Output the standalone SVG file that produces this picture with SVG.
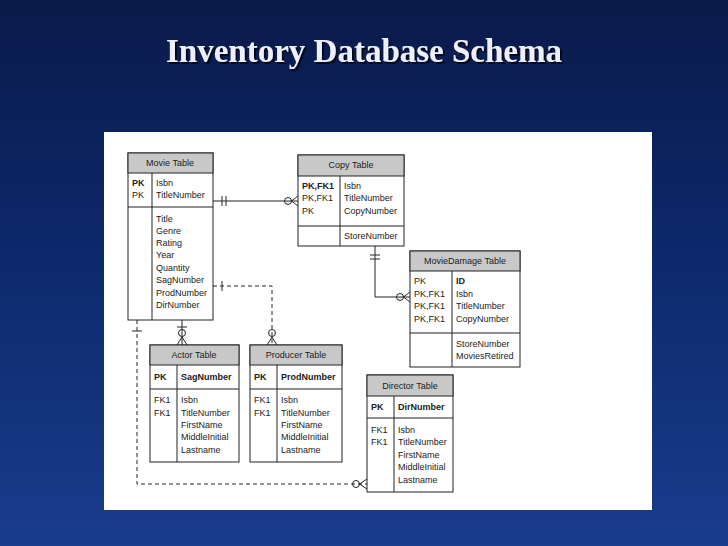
<svg xmlns="http://www.w3.org/2000/svg" width="728" height="546" viewBox="0 0 728 546">
<defs>
<linearGradient id="bg" x1="0" y1="0" x2="0" y2="1"><stop offset="0" stop-color="#0a1a4a"/><stop offset="0.5" stop-color="#0d2a6e"/><stop offset="1" stop-color="#1a3c8c"/></linearGradient>
<filter id="sh" x="-5%" y="-20%" width="110%" height="150%"><feDropShadow dx="2" dy="2" stdDeviation="0.5" flood-color="#000" flood-opacity="0.7"/></filter>
</defs>
<style>
.t{fill:#fff;stroke:#222;stroke-width:1}
.h{fill:#c8c8c8;stroke:#222;stroke-width:1}
.l{stroke:#222;stroke-width:1;fill:none}
.d{stroke:#222;stroke-width:1;fill:none;stroke-dasharray:4,3}
text{font-family:"Liberation Sans",Arial,sans-serif;font-size:9px;fill:#222}
.b{font-weight:bold}
.c{text-anchor:middle}
</style>
<rect width="728" height="546" fill="url(#bg)"/>
<text x="364" y="62" class="c" filter="url(#sh)" style="font-family:'Liberation Serif',serif;font-size:33px;font-weight:bold;fill:#eef0ff">Inventory Database Schema</text>
<rect x="104" y="132" width="548" height="378" fill="#fff"/>
<g id="connectors">
<path class="l" d="M213 201H298"/><path class="l" d="M222 196v10M226 196v10"/>
<circle class="l" cx="288" cy="201" r="3.5"/><path class="l" d="M291.5 201L298 196M291.5 201L298 206"/>
<path class="l" d="M375 246V297H410"/><path class="l" d="M370 255h10M370 259h10"/>
<circle class="l" cx="400" cy="297" r="3.5"/><path class="l" d="M403.5 297L410 292M403.5 297L410 302"/>
<path class="d" d="M213 286H272V345"/><path class="l" d="M222 281v10"/>
<circle class="l" cx="272" cy="333" r="3.5"/><path class="l" d="M272 337L267 345M272 337L277 345"/>
<path class="l" d="M182 320V345"/><path class="l" d="M177 327h10"/>
<circle class="l" cx="182" cy="333" r="3.5"/><path class="l" d="M182 337L177 345M182 337L187 345"/>
<path class="d" d="M137 320V484H367"/><path class="l" d="M132 331h10"/>
<circle class="l" cx="356" cy="484" r="3.5"/><path class="l" d="M359.5 484L367 479M359.5 484L367 489"/>
</g>
<g id="movie">
<rect class="t" x="128" y="153" width="85" height="167"/><rect class="h" x="128" y="153" width="85" height="20"/>
<path class="l" d="M128 207H213M152 173V320"/>
<text x="170" y="166" class="c">Movie Table</text>
<text x="132" y="186" class="b">PK</text><text x="132" y="198">PK</text>
<text x="156" y="186">Isbn</text><text x="156" y="198">TitleNumber</text>
<text x="156" y="222">Title</text><text x="156" y="234">Genre</text><text x="156" y="246">Rating</text><text x="156" y="258">Year</text><text x="156" y="271">Quantity</text><text x="156" y="283">SagNumber</text><text x="156" y="296">ProdNumber</text><text x="156" y="308">DirNumber</text>
</g>
<g id="copy">
<rect class="t" x="298" y="155" width="106" height="91"/><rect class="h" x="298" y="155" width="106" height="21"/>
<path class="l" d="M298 226H404M340 176V246"/>
<text x="351" y="168" class="c">Copy Table</text>
<text x="302" y="189" class="b">PK,FK1</text><text x="302" y="201">PK,FK1</text><text x="302" y="214">PK</text>
<text x="344" y="189">Isbn</text><text x="344" y="201">TitleNumber</text><text x="344" y="214">CopyNumber</text>
<text x="344" y="239">StoreNumber</text>
</g>
<g id="moviedamage">
<rect class="t" x="410" y="251" width="110" height="116"/><rect class="h" x="410" y="251" width="110" height="20"/>
<path class="l" d="M410 333H520M452 271V367"/>
<text x="465" y="264" class="c">MovieDamage Table</text>
<text x="414" y="284">PK</text><text x="414" y="297">PK,FK1</text><text x="414" y="309">PK,FK1</text><text x="414" y="322">PK,FK1</text>
<text x="456" y="284" class="b">ID</text><text x="456" y="297">Isbn</text><text x="456" y="309">TitleNumber</text><text x="456" y="322">CopyNumber</text>
<text x="456" y="347">StoreNumber</text><text x="456" y="359">MoviesRetired</text>
</g>
<g id="actor">
<rect class="t" x="150" y="345" width="89" height="117"/><rect class="h" x="150" y="345" width="89" height="20"/>
<path class="l" d="M150 389H239M177 365V462"/>
<text x="194" y="358" class="c">Actor Table</text>
<text x="154" y="380" class="b">PK</text><text x="181" y="380" class="b">SagNumber</text>
<text x="154" y="403">FK1</text><text x="154" y="416">FK1</text>
<text x="181" y="403">Isbn</text><text x="181" y="416">TitleNumber</text><text x="181" y="428">FirstName</text><text x="181" y="440">MiddleInitial</text><text x="181" y="453">Lastname</text>
</g>
<g id="producer">
<rect class="t" x="250" y="345" width="92" height="117"/><rect class="h" x="250" y="345" width="92" height="20"/>
<path class="l" d="M250 389H342M277 365V462"/>
<text x="296" y="358" class="c">Producer Table</text>
<text x="254" y="380" class="b">PK</text><text x="281" y="380" class="b">ProdNumber</text>
<text x="254" y="403">FK1</text><text x="254" y="416">FK1</text>
<text x="281" y="403">Isbn</text><text x="281" y="416">TitleNumber</text><text x="281" y="428">FirstName</text><text x="281" y="440">MiddleInitial</text><text x="281" y="453">Lastname</text>
</g>
<g id="director">
<rect class="t" x="367" y="375" width="86" height="117"/><rect class="h" x="367" y="375" width="86" height="21"/>
<path class="l" d="M367 418H453M394 396V492"/>
<text x="410" y="389" class="c">Director Table</text>
<text x="371" y="410" class="b">PK</text><text x="398" y="410" class="b">DirNumber</text>
<text x="371" y="433">FK1</text><text x="371" y="445">FK1</text>
<text x="398" y="433">Isbn</text><text x="398" y="445">TitleNumber</text><text x="398" y="458">FirstName</text><text x="398" y="470">MiddleInitial</text><text x="398" y="483">Lastname</text>
</g>
</svg>
